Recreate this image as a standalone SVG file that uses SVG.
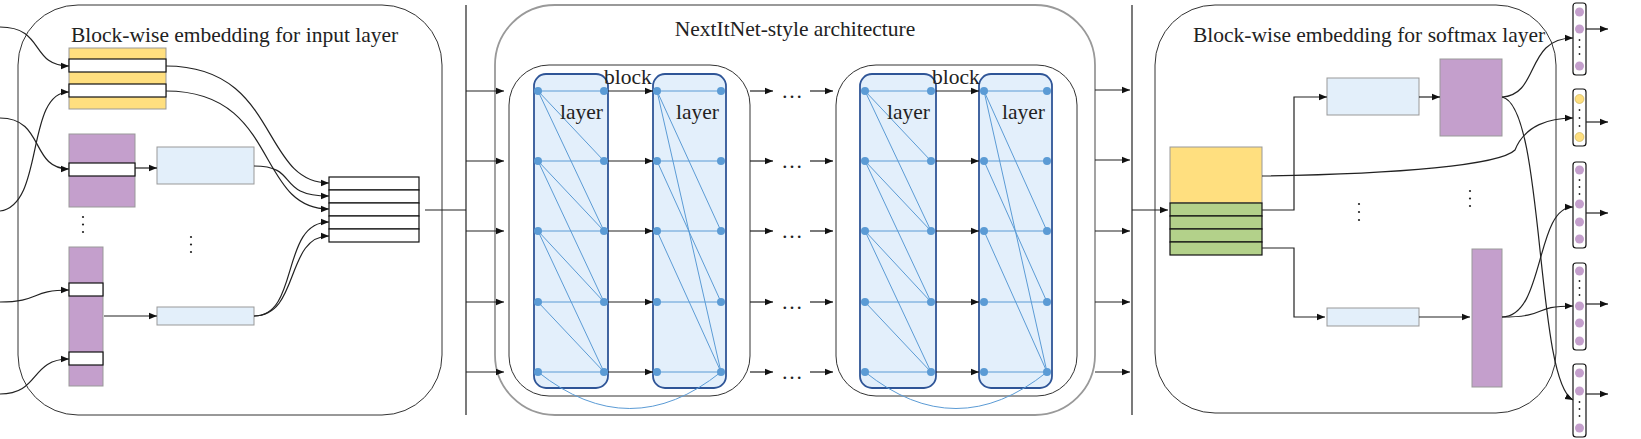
<svg xmlns="http://www.w3.org/2000/svg" width="1641" height="439" viewBox="0 0 1641 439">
<defs>
<marker id="ah" viewBox="0 0 10 10" refX="10" refY="5" markerWidth="8" markerHeight="8" markerUnits="userSpaceOnUse" orient="auto"><path d="M0,1 L10,5 L0,9 z" fill="#111"/></marker>
<style>
.t{font-family:"Liberation Serif",serif;font-size:21.5px;fill:#222}
.c{fill:none;stroke:#222;stroke-width:1.2}
.a{fill:none;stroke:#222;stroke-width:1.2;marker-end:url(#ah)}
.panel{fill:none;stroke:#333;stroke-width:1}
.grey{fill:none;stroke:#999;stroke-width:1.8}
.yel{fill:#FFDF7F;stroke:#999;stroke-width:1}
.pur{fill:#C49FCC;stroke:#999;stroke-width:1}
.lb{fill:#E3EFFA;stroke:#999;stroke-width:1}
.wb{fill:#fff;stroke:#111;stroke-width:1.2}
.gr{fill:#B3D18A;stroke:#111;stroke-width:1.2}
.lay{fill:#E3EFFB;stroke:#2F5597;stroke-width:1.8}
.bl{fill:none;stroke:#5B9BD5;stroke-width:1}
.nd{fill:#5B9BD5}
.dot{fill:#222}
.pc{fill:#C49FCC}
.yc{fill:#FFDF7F;stroke:#B8A040;stroke-width:0.5}
.vec{fill:#fff;stroke:#111;stroke-width:1.2}
</style>
</defs>

<g id="input-panel">
<rect class="panel" x="18" y="5" width="424" height="410" rx="60"/>
<text class="t" x="71" y="42">Block-wise embedding for input layer</text>
<rect class="yel" x="69" y="48" width="97" height="61"/>
<rect class="wb" x="69" y="59" width="97" height="13"/>
<rect class="wb" x="69" y="84" width="97" height="13"/>
<rect class="pur" x="69" y="134" width="66" height="73"/>
<rect class="wb" x="69" y="163" width="66" height="13"/>
<rect class="pur" x="69" y="247" width="34" height="139"/>
<rect class="wb" x="69" y="283" width="34" height="13"/>
<rect class="wb" x="69" y="352" width="34" height="13"/>
<rect class="lb" x="157" y="147" width="97" height="37"/>
<rect class="lb" x="157" y="307" width="97" height="18"/>
<rect class="wb" x="329" y="177" width="90" height="13"/>
<rect class="wb" x="329" y="190" width="90" height="13"/>
<rect class="wb" x="329" y="203" width="90" height="13"/>
<rect class="wb" x="329" y="216" width="90" height="13"/>
<rect class="wb" x="329" y="229" width="90" height="13"/>
<circle class="dot" cx="83" cy="217" r="1.1"/><circle class="dot" cx="83" cy="224.5" r="1.1"/><circle class="dot" cx="83" cy="232" r="1.1"/>
<circle class="dot" cx="191" cy="237" r="1.1"/><circle class="dot" cx="191" cy="244.5" r="1.1"/><circle class="dot" cx="191" cy="252" r="1.1"/>
</g>

<g id="nextitnet">
<rect class="grey" x="495" y="5" width="600" height="410" rx="60"/>
<text class="t" x="795" y="36" text-anchor="middle">NextItNet-style architecture</text>
<g id="block1">
<rect class="panel" x="509" y="65" width="241" height="331" rx="40"/>
<rect class="lay" x="534" y="74" width="74" height="314" rx="12"/>
<rect class="lay" x="653" y="74" width="73" height="314" rx="12"/>
<g class="bl">
<path d="M538,91H604M538,161H604M538,231H604M538,302H604M538,372H604"/>
<path d="M538,91L604,161M538,91L604,231M538,161L604,231M538,161L604,302M538,231L604,302M538,231L604,372M538,302L604,372"/>
<path d="M657,91H721M657,161H721M657,231H721M657,302H721M657,372H721"/>
<path d="M657,91L721,231M657,91L721,372M657,161L721,302M657,231L721,372"/>
<path d="M538,372Q630,445 721,372"/>
</g>
<g class="nd">
<circle cx="538" cy="91" r="4"/><circle cx="538" cy="161" r="4"/><circle cx="538" cy="231" r="4"/><circle cx="538" cy="302" r="4"/><circle cx="538" cy="372" r="4"/>
<circle cx="604" cy="91" r="4"/><circle cx="604" cy="161" r="4"/><circle cx="604" cy="231" r="4"/><circle cx="604" cy="302" r="4"/><circle cx="604" cy="372" r="4"/>
<circle cx="657" cy="91" r="4"/><circle cx="657" cy="161" r="4"/><circle cx="657" cy="231" r="4"/><circle cx="657" cy="302" r="4"/><circle cx="657" cy="372" r="4"/>
<circle cx="721" cy="91" r="4"/><circle cx="721" cy="161" r="4"/><circle cx="721" cy="231" r="4"/><circle cx="721" cy="302" r="4"/><circle cx="721" cy="372" r="4"/>
</g>
<text class="t" x="604" y="84">block</text>
<text class="t" x="560" y="119">layer</text>
<text class="t" x="676" y="119">layer</text>
</g>
<g id="block2">
<rect class="panel" x="836" y="65" width="241" height="331" rx="40"/>
<rect class="lay" x="860" y="74" width="76" height="314" rx="12"/>
<rect class="lay" x="979" y="74" width="73" height="314" rx="12"/>
<g class="bl">
<path d="M865,91H931M865,161H931M865,231H931M865,302H931M865,372H931"/>
<path d="M865,91L931,161M865,91L931,231M865,161L931,231M865,161L931,302M865,231L931,302M865,231L931,372M865,302L931,372"/>
<path d="M984,91H1047M984,161H1047M984,231H1047M984,302H1047M984,372H1047"/>
<path d="M984,91L1047,231M984,91L1047,372M984,161L1047,302M984,231L1047,372"/>
<path d="M865,372Q956,445 1047,372"/>
</g>
<g class="nd">
<circle cx="865" cy="91" r="4"/><circle cx="865" cy="161" r="4"/><circle cx="865" cy="231" r="4"/><circle cx="865" cy="302" r="4"/><circle cx="865" cy="372" r="4"/>
<circle cx="931" cy="91" r="4"/><circle cx="931" cy="161" r="4"/><circle cx="931" cy="231" r="4"/><circle cx="931" cy="302" r="4"/><circle cx="931" cy="372" r="4"/>
<circle cx="984" cy="91" r="4"/><circle cx="984" cy="161" r="4"/><circle cx="984" cy="231" r="4"/><circle cx="984" cy="302" r="4"/><circle cx="984" cy="372" r="4"/>
<circle cx="1047" cy="91" r="4"/><circle cx="1047" cy="161" r="4"/><circle cx="1047" cy="231" r="4"/><circle cx="1047" cy="302" r="4"/><circle cx="1047" cy="372" r="4"/>
</g>
<text class="t" x="932" y="84">block</text>
<text class="t" x="887" y="119">layer</text>
<text class="t" x="1002" y="119">layer</text>
</g>
<g class="t"><text x="792" y="98" text-anchor="middle">…</text><text x="792" y="168" text-anchor="middle">…</text><text x="792" y="238" text-anchor="middle">…</text><text x="792" y="309" text-anchor="middle">…</text><text x="792" y="379" text-anchor="middle">…</text></g>
</g>

<g id="softmax-panel">
<rect class="panel" x="1155" y="5" width="401" height="408" rx="60"/>
<text class="t" x="1193" y="42">Block-wise embedding for softmax layer</text>
<rect class="yel" x="1170" y="147" width="92" height="56"/>
<rect class="gr" x="1170" y="203" width="92" height="13"/>
<rect class="gr" x="1170" y="216" width="92" height="13"/>
<rect class="gr" x="1170" y="229" width="92" height="13"/>
<rect class="gr" x="1170" y="242" width="92" height="13"/>
<rect class="lb" x="1327" y="78" width="92" height="37"/>
<rect class="lb" x="1327" y="308" width="92" height="18"/>
<rect class="pur" x="1440" y="59" width="62" height="77"/>
<rect class="pur" x="1472" y="249" width="30" height="138"/>
<circle class="dot" cx="1359" cy="204" r="1.1"/><circle class="dot" cx="1359" cy="212" r="1.1"/><circle class="dot" cx="1359" cy="220" r="1.1"/>
<circle class="dot" cx="1470" cy="191" r="1.1"/><circle class="dot" cx="1470" cy="198.5" r="1.1"/><circle class="dot" cx="1470" cy="206" r="1.1"/>
</g>

<g id="outputs">
<rect class="vec" x="1573" y="3" width="13" height="72" rx="3"/>
<circle class="pc" cx="1579.5" cy="12" r="4.5"/><circle class="pc" cx="1579.5" cy="29" r="4.5"/><circle class="pc" cx="1579.5" cy="66" r="4.5"/>
<circle class="dot" cx="1579.5" cy="40" r="0.9"/><circle class="dot" cx="1579.5" cy="47" r="0.9"/><circle class="dot" cx="1579.5" cy="54" r="0.9"/>
<rect class="vec" x="1573" y="89" width="13" height="57" rx="3"/>
<circle class="yc" cx="1579.5" cy="99" r="4.5"/><circle class="yc" cx="1579.5" cy="137" r="4.5"/>
<circle class="dot" cx="1579.5" cy="110" r="0.9"/><circle class="dot" cx="1579.5" cy="118" r="0.9"/><circle class="dot" cx="1579.5" cy="126" r="0.9"/>
<rect class="vec" x="1573" y="162" width="13" height="86" rx="3"/>
<circle class="pc" cx="1579.5" cy="170" r="4.5"/><circle class="pc" cx="1579.5" cy="204" r="4.5"/><circle class="pc" cx="1579.5" cy="222" r="4.5"/><circle class="pc" cx="1579.5" cy="239" r="4.5"/>
<circle class="dot" cx="1579.5" cy="180" r="0.9"/><circle class="dot" cx="1579.5" cy="187" r="0.9"/><circle class="dot" cx="1579.5" cy="194" r="0.9"/>
<rect class="vec" x="1573" y="263" width="13" height="87" rx="3"/>
<circle class="pc" cx="1579.5" cy="271" r="4.5"/><circle class="pc" cx="1579.5" cy="306" r="4.5"/><circle class="pc" cx="1579.5" cy="323" r="4.5"/><circle class="pc" cx="1579.5" cy="341" r="4.5"/>
<circle class="dot" cx="1579.5" cy="281" r="0.9"/><circle class="dot" cx="1579.5" cy="288" r="0.9"/><circle class="dot" cx="1579.5" cy="295" r="0.9"/>
<rect class="vec" x="1573" y="364" width="13" height="73" rx="3"/>
<circle class="pc" cx="1579.5" cy="373" r="4.5"/><circle class="pc" cx="1579.5" cy="391" r="4.5"/><circle class="pc" cx="1579.5" cy="428" r="4.5"/>
<circle class="dot" cx="1579.5" cy="402" r="0.9"/><circle class="dot" cx="1579.5" cy="409" r="0.9"/><circle class="dot" cx="1579.5" cy="416" r="0.9"/>
</g>

<g id="connectors">
<path class="a" d="M0,27C45,27 30,66 69,66"/>
<path class="a" d="M0,118C45,118 30,169 69,169"/>
<path class="a" d="M0,211C45,205 25,92 69,92"/>
<path class="a" d="M0,302C40,302 30,290 69,290"/>
<path class="a" d="M0,394C40,394 30,359 69,359"/>
<path class="a" d="M135,168H157"/>
<path class="a" d="M104,316H157"/>
<path class="a" d="M166,66C280,66 260,183 329,183"/>
<path class="a" d="M166,91C280,91 255,209 329,209"/>
<path class="a" d="M254,166C300,166 275,196 329,196"/>
<path class="a" d="M254,316C300,316 280,222 329,222"/>
<path class="a" d="M254,316C300,316 285,236 329,236"/>
<path class="c" d="M425,210H466"/>
<path class="c" d="M466,5V415" stroke-width="1.4"/>
<path class="c" d="M1132,5V415" stroke-width="1.4"/>
<path class="a" d="M466,91H504"/><path class="a" d="M466,161H504"/><path class="a" d="M466,231H504"/><path class="a" d="M466,302H504"/><path class="a" d="M466,372H504"/>
<path class="a" d="M608,91H653"/><path class="a" d="M608,161H653"/><path class="a" d="M608,231H653"/><path class="a" d="M608,302H653"/><path class="a" d="M608,372H653"/>
<path class="a" d="M750,91H773"/><path class="a" d="M750,161H773"/><path class="a" d="M750,231H773"/><path class="a" d="M750,302H773"/><path class="a" d="M750,372H773"/>
<path class="a" d="M810,91H833"/><path class="a" d="M810,161H833"/><path class="a" d="M810,231H833"/><path class="a" d="M810,302H833"/><path class="a" d="M810,372H833"/>
<path class="a" d="M936,91H979"/><path class="a" d="M936,161H979"/><path class="a" d="M936,231H979"/><path class="a" d="M936,302H979"/><path class="a" d="M936,372H979"/>
<path class="a" d="M1095,90H1130"/><path class="a" d="M1095,160H1130"/><path class="a" d="M1095,231H1130"/><path class="a" d="M1095,302H1130"/><path class="a" d="M1095,372H1130"/>
<path class="a" d="M1132,210H1168"/>
<path class="a" d="M1262,210H1294V97H1327"/>
<path class="a" d="M1262,248H1294V317H1325"/>
<path class="a" d="M1419,97H1440"/>
<path class="a" d="M1419,317H1470"/>
<path class="a" d="M1262,176C1400,174 1500,165 1515,150C1525,125 1550,118 1573,118"/>
<path class="a" d="M1502,97C1540,95 1525,38 1573,38"/>
<path class="a" d="M1502,97C1545,105 1535,380 1573,400"/>
<path class="a" d="M1502,317C1545,317 1535,207 1573,207"/>
<path class="a" d="M1502,317C1550,317 1530,306 1573,306"/>
<path class="a" d="M1586,29H1608"/><path class="a" d="M1586,122H1608"/><path class="a" d="M1586,213H1608"/><path class="a" d="M1586,304H1608"/><path class="a" d="M1586,394H1608"/>
</g>
</svg>
